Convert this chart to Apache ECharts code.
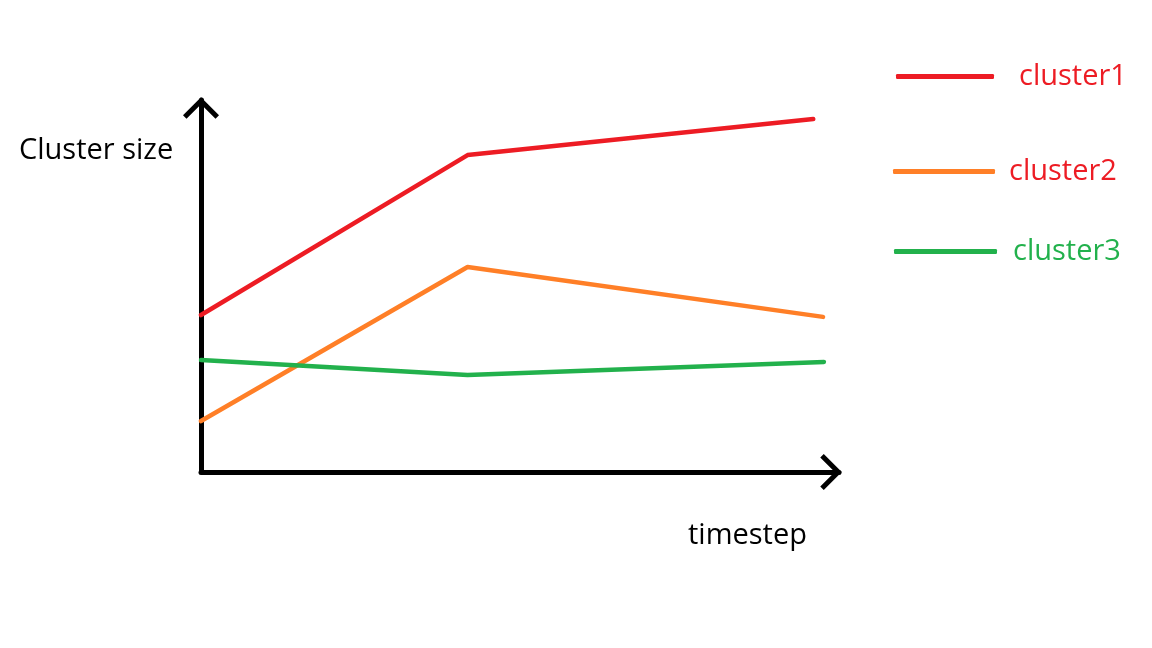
<!DOCTYPE html>
<html>
<head>
<meta charset="utf-8">
<script src="https://cdn.jsdelivr.net/npm/echarts@6/dist/echarts.min.js"></script>
<style>
html,body{margin:0;padding:0;background:#fff;}
#chart{width:1152px;height:648px;}
</style>
</head>
<body>
<div id="chart"></div>
<script>
// ---- data ----
const seriesNames = ['cluster1', 'cluster2', 'cluster3'];
const cluster1X = [0, 3, 6.89];
const cluster1Y = [4.22, 8.52, 9.49];
const cluster2X = [0, 3, 7];
const cluster2Y = [1.37, 5.51, 4.17];
const cluster3X = [0, 3, 7.01];
const cluster3Y = [3.01, 2.61, 2.96];
const xAxisTitle = 'timestep';
const yAxisTitle = 'Cluster size';

// ---- style ----
const RED = '#ED1C24', ORANGE = '#FF7F27', GREEN = '#22B14C';
const FONT = '"Open Sans", "Noto Sans", sans-serif';
const chevron = 'path://M18,0 L36,18 L32.5,21.5 L18,7 L3.5,21.5 L0,18 Z';

function pairs(xs, ys) { return xs.map((x, i) => [x, ys[i]]); }

const lineColors = [RED, ORANGE, GREEN];
const labelColors = [RED, RED, GREEN];
const legendPos = [
  { left: 896, top: 62, w: 98, pad: 20 },
  { left: 893, top: 157, w: 102, pad: 9 },
  { left: 894, top: 237, w: 103, pad: 11 }
];

const chart = echarts.init(document.getElementById('chart'), null, { renderer: 'canvas' });

const axisCommon = {
  type: 'value',
  axisLine: {
    show: true,
    lineStyle: { color: '#000', width: 5 },
    symbol: ['none', chevron],
    symbolSize: [36, 21.5],
    symbolOffset: [0, -8]
  },
  axisTick: { show: false },
  axisLabel: { show: false },
  splitLine: { show: false }
};

chart.setOption({
  backgroundColor: '#fff',
  animation: false,
  grid: { left: 201, right: 313, top: 100, bottom: 176 },
  xAxis: Object.assign({}, axisCommon, { min: 0, max: 7.18 }),
  yAxis: Object.assign({}, axisCommon, { min: 0, max: 10 }),
  legend: seriesNames.map((n, i) => ({
    show: true,
    orient: 'vertical',
    left: legendPos[i].left,
    top: legendPos[i].top,
    padding: 0,
    selectedMode: false,
    icon: 'roundRect',
    itemWidth: legendPos[i].w,
    itemHeight: 5,
    data: [{ name: n, textStyle: { color: labelColors[i] } }],
    textStyle: {
      fontFamily: FONT,
      fontSize: 29,
      color: labelColors[i],
      padding: [0, 0, 0, legendPos[i].pad]
    }
  })),
  graphic: [
    { type: 'text', x: 19, y: 151, style: { text: yAxisTitle, font: '29px ' + FONT, fill: '#000', verticalAlign: 'middle', align: 'left' } },
    { type: 'text', x: 688, y: 536, style: { text: xAxisTitle, font: '29px ' + FONT, fill: '#000', verticalAlign: 'middle', align: 'left' } }
  ],
  series: [
    { name: seriesNames[0], type: 'line', data: pairs(cluster1X, cluster1Y) },
    { name: seriesNames[1], type: 'line', data: pairs(cluster2X, cluster2Y) },
    { name: seriesNames[2], type: 'line', data: pairs(cluster3X, cluster3Y) }
  ].map((s, i) => Object.assign(s, {
    symbol: 'none',
    smooth: false,
    color: lineColors[i],
    itemStyle: { color: lineColors[i] },
    lineStyle: { color: lineColors[i], width: 4.5, cap: 'round', join: 'round' }
  }))
});
</script>
</body>
</html>
